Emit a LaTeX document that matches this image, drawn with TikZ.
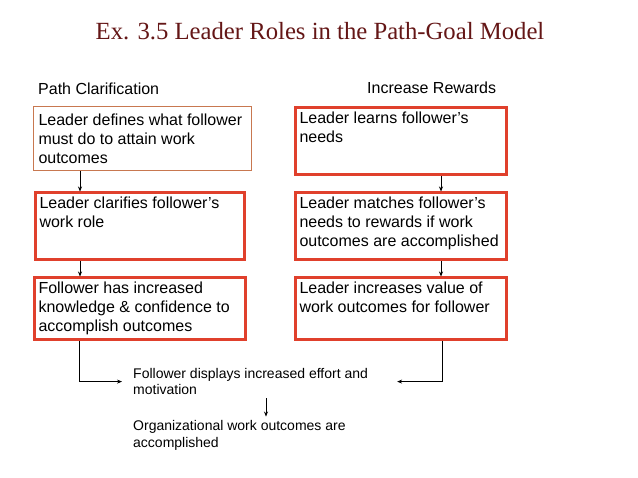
\documentclass[tikz,border=0pt]{standalone}
\usepackage{fontspec}
\setmainfont{Liberation Sans}
\newfontfamily\titlefont{Liberation Serif}
\usetikzlibrary{arrows.meta}
\definecolor{boxred}{RGB}{224,64,44}
\definecolor{thinbrown}{RGB}{200,120,80}
\definecolor{titlered}{RGB}{100,22,22}
\newcommand\boxtext[4]{\parbox[t][#2][t]{#1}{\raggedright\rule{0pt}{#3}#4}}
\begin{document}
\begin{tikzpicture}[x=1pt,y=-1pt,
  redbox/.style={draw=boxred, line width=3pt, inner xsep=4.5pt, inner ysep=0pt, anchor=north west,
    font=\fontsize{16}{19}\selectfont},
  thinbox/.style={draw=thinbrown, line width=1pt, inner xsep=5.5pt, inner ysep=0pt, anchor=north west,
    font=\fontsize{16}{19}\selectfont},
  arr/.style={-{Stealth[length=5pt,width=4pt]}, line width=0.7pt, black},
  heading/.style={font=\fontsize{16}{19}\selectfont, anchor=base west, inner sep=0pt},
  plain/.style={font=\fontsize{14}{16.8}\selectfont, align=left, inner sep=0pt}]
\useasboundingbox (0,0) rectangle (638,478);

\node[font=\titlefont\fontsize{24.7}{30}\selectfont, text=titlered, anchor=base, inner sep=0pt]
  (title) at (320,39.5) {Ex. 3.5 Leader Roles in the Path-Goal Model};

\node[heading] (pc) at (38,95) {Path Clarification};
\node[heading] (ir) at (367,93.7) {Increase Rewards};

% left column
\node[thinbox] (L1) at (32.5,106.5)
  {\boxtext{207pt}{64pt}{18.5pt}{Leader defines what follower\\must do to attain work\\outcomes}};
\node[redbox] (L2) at (33.5,191.5)
  {\boxtext{200pt}{67pt}{16pt}{Leader clarifies follower’s\\work role}};
\node[redbox] (L3) at (32.5,276.5)
  {\boxtext{202pt}{62pt}{16pt}{Follower has increased\\knowledge \& confidence to\\accomplish outcomes}};

% right column
\node[redbox] (R1) at (293.5,106.5)
  {\boxtext{202pt}{67pt}{16pt}{Leader learns follower’s\\needs}};
\node[redbox] (R2) at (293.5,191.5)
  {\boxtext{202pt}{67pt}{16pt}{Leader matches follower’s\\needs to rewards if work\\outcomes are accomplished}};
\node[redbox] (R3) at (293.5,276.5)
  {\boxtext{202pt}{62pt}{16pt}{Leader increases value of\\work outcomes for follower}};

% bottom texts (base anchor = baseline of the last line)
\node[plain, anchor=base west] (eff) at (133,395)
  {Follower displays increased effort and\\motivation};
\node[plain, anchor=base west] (org) at (133,447.7)
  {Organizational work outcomes are\\accomplished};

% connectors
\draw[arr] ([xshift=47.5pt]L1.south west) -- ([xshift=46.5pt]L2.north west);
\draw[arr] ([xshift=46.5pt]L2.south west) -- ([xshift=47.5pt]L3.north west);
\draw[arr] ([xshift=147.5pt]R1.south west) -- ([xshift=147.5pt]R2.north west);
\draw[arr] ([xshift=147.5pt]R2.south west) -- ([xshift=147.5pt]R3.north west);
\draw[arr] ([xshift=47pt]L3.south west) |- ([xshift=-11pt]eff.west);
\draw[arr] ([xshift=148.5pt]R3.south west) |- ([xshift=29pt]eff.east);
\draw[arr] ([xshift=133pt,yshift=-3pt]eff.south west) -- ([xshift=133pt,yshift=4pt]org.north west);
\end{tikzpicture}
\end{document}
